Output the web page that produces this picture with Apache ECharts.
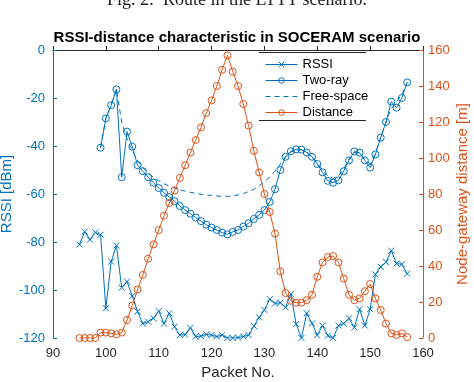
<!DOCTYPE html>
<html><head><meta charset="utf-8">
<script src="https://cdn.jsdelivr.net/npm/echarts@6/dist/echarts.min.js"></script>
<style>html,body{margin:0;padding:0;background:#fff}#c{width:474px;height:382px}</style>
</head><body><div id="c"></div>
<script>
const packets = [95,96,97,98,99,100,101,102,103,104,105,106,107,108,109,110,111,112,113,114,115,116,117,118,119,120,121,122,123,124,125,126,127,128,129,130,131,132,133,134,135,136,137,138,139,140,141,142,143,144,145,146,147,148,149,150,151,152,153,154,155,156,157];
const rssi = [-81,-75.7,-79,-76,-77,-107.6,-88.2,-81.5,-99,-96.5,-102.5,-109,-114,-113.2,-111.8,-108.8,-114,-109.7,-115.3,-118.8,-118.6,-115.8,-119.4,-119.2,-118.5,-118.8,-119.4,-118.8,-120,-120,-119.8,-119.4,-118.8,-115,-111.4,-108.3,-103.8,-105.6,-105.3,-107.2,-101.7,-114.2,-120,-109.7,-113.9,-118.8,-114.8,-119,-120,-114.8,-114,-111.8,-115.6,-108,-114.8,-108,-93.5,-90.3,-88.4,-83.6,-89,-89.3,-93.2];
const twoRay = [null,null,null,null,-40.7,-28.5,-23,-16.4,-53,-34,-40.3,-48,-50.5,-53,-55.3,-57.5,-59.5,-61.3,-63,-65,-66.7,-68.2,-69.8,-71.3,-72.8,-74,-75,-76.1,-76.8,-75.8,-75,-73.6,-72.2,-70.4,-68.7,-66.7,-63.3,-58,-50,-44.5,-42.2,-41.4,-41.5,-42.7,-44.5,-47.5,-51,-54.5,-55.3,-54.3,-50.5,-46,-42.3,-42.8,-46,-49,-43.5,-36.5,-30,-21.5,-24,-20,-13.5];
const freeSpace = [null,null,null,null,-40.7,-28.5,-23,-16.4,-30,-37,-42,-46,-49,-51.2,-53,-54.5,-55.7,-56.7,-57.5,-58.2,-58.8,-59.3,-59.7,-60.1,-60.4,-60.6,-60.8,-61,-61,-60.8,-60.4,-59.8,-59,-58,-56.6,-55,-53,-50.5,-47.5,-44.5,-42.5,-41.6,-41.6,-42.5,-44.3,-47,-50,-52.5,-53.5,-52.5,-49.5,-45.5,-42.8,-42.8,-45.5,-47.5,-43,-36.5,-30,-24.5,-21.5,-18.5,-13.5];
const distance = [0,0,0,0,3,3,2.6,2,3,10,18,27,35,44,52,60,68,75,82,89,96,103,110,117,125,132,140,149,157,148,140,130,118,104,92,80,70,58,37,25,20.7,19.6,19.6,21,24,34,42,45,45.5,42,33,24,21,22,26,30,22,15.5,8,2.6,1.7,2.6,0.5];
const xTicks = [90,100,110,120,130,140,150,160];

const BLUE = '#0072BD', ORANGE = '#D95319', FONT = '"Liberation Sans", Arial, sans-serif';
const CLEAR = 'rgba(0,0,0,0)';
const pairs = arr => packets.map((p, i) => [p, arr[i]]).filter(d => d[1] !== null);

const chart = echarts.init(document.getElementById('c'), null, {renderer: 'canvas'});
chart.setOption({
  animation: false,
  backgroundColor: '#fff',
  textStyle: {fontFamily: FONT},
  title: {
    text: 'RSSI-distance characteristic in SOCERAM scenario',
    left: 'center', top: 25,
    textStyle: {fontSize: 15, fontWeight: 'bold', color: '#000', fontFamily: FONT}
  },
  graphic: [
    {type: 'text', x: 237, y: 9,
     style: {text: 'Fig. 2:  Route in the LTTT scenario.', font: '18px "Liberation Serif", "DejaVu Serif", serif',
             fill: '#222', align: 'center', verticalAlign: 'bottom'}},
    {type: 'line', shape: {x1: 259, y1: 52.5, x2: 366, y2: 52.5}, style: {stroke: '#262626', lineWidth: 1}},
    {type: 'line', shape: {x1: 259, y1: 120.5, x2: 366, y2: 120.5}, style: {stroke: '#262626', lineWidth: 1}}
  ],
  legend: {
    orient: 'vertical', left: 260, top: 53, itemWidth: 32, itemHeight: 7, itemGap: 3,
    textStyle: {fontSize: 13, color: '#000', fontFamily: FONT},
    lineStyle: {width: 1},
    itemStyle: {borderWidth: 1},
    data: ['RSSI', 'Two-ray', 'Free-space', 'Distance']
  },
  grid: {left: 53, right: 51, top: 50, bottom: 44, containLabel: false, outerBoundsMode: 'none'},
  xAxis: {
    type: 'value', min: 90, max: 160, interval: 10,
    name: 'Packet No.', nameLocation: 'middle', nameGap: 27, nameMoveOverlap: false,
    nameTextStyle: {fontSize: 15, color: '#262626'},
    axisLine: {lineStyle: {color: '#262626'}},
    axisTick: {inside: true, length: 4, lineStyle: {color: '#262626'}},
    axisLabel: {fontSize: 13, color: '#262626', margin: 9},
    splitLine: {show: false}
  },
  yAxis: [
    {type: 'value', min: -120, max: 0, interval: 20, position: 'left',
     name: 'RSSI [dBm]', nameLocation: 'middle', nameGap: 39, nameRotate: 90, nameMoveOverlap: false,
     nameTextStyle: {fontSize: 15, color: BLUE},
     axisLine: {show: true, lineStyle: {color: BLUE}},
     axisTick: {show: true, inside: true, length: 4, lineStyle: {color: BLUE}},
     axisLabel: {fontSize: 13, color: BLUE, margin: 8},
     splitLine: {show: false}},
    {type: 'value', min: 0, max: 160, interval: 20, position: 'right',
     name: 'Node-gateway distance [m]', nameLocation: 'middle', nameGap: 32, nameRotate: 90, nameMoveOverlap: false,
     nameTextStyle: {fontSize: 15, color: ORANGE},
     axisLine: {show: true, lineStyle: {color: ORANGE}},
     axisTick: {show: true, inside: true, length: 4, lineStyle: {color: ORANGE}},
     axisLabel: {fontSize: 13, color: ORANGE, margin: 5},
     splitLine: {show: false}}
  ],
  series: [
    {name: 'RSSI', type: 'line', yAxisIndex: 0, data: pairs(rssi),
     symbol: 'path://M0,0L10,10M10,0L0,10', symbolSize: 6,
     lineStyle: {color: BLUE, width: 1},
     itemStyle: {color: CLEAR, borderColor: BLUE, borderWidth: 1},
     emphasis: {disabled: true}},
    {name: 'Two-ray', type: 'line', yAxisIndex: 0, data: pairs(twoRay),
     symbol: 'circle', symbolSize: 7,
     lineStyle: {color: BLUE, width: 1},
     itemStyle: {color: CLEAR, borderColor: BLUE, borderWidth: 1},
     emphasis: {disabled: true}},
    {name: 'Free-space', type: 'line', yAxisIndex: 0, data: pairs(freeSpace),
     symbol: 'none',
     lineStyle: {color: BLUE, width: 1, type: [5, 4]},
     itemStyle: {color: CLEAR, borderColor: CLEAR, borderWidth: 0},
     emphasis: {disabled: true}},
    {name: 'Distance', type: 'line', yAxisIndex: 1, data: pairs(distance),
     symbol: 'circle', symbolSize: 7,
     lineStyle: {color: ORANGE, width: 1},
     itemStyle: {color: CLEAR, borderColor: ORANGE, borderWidth: 1},
     emphasis: {disabled: true}}
  ]
});
</script></body></html>
